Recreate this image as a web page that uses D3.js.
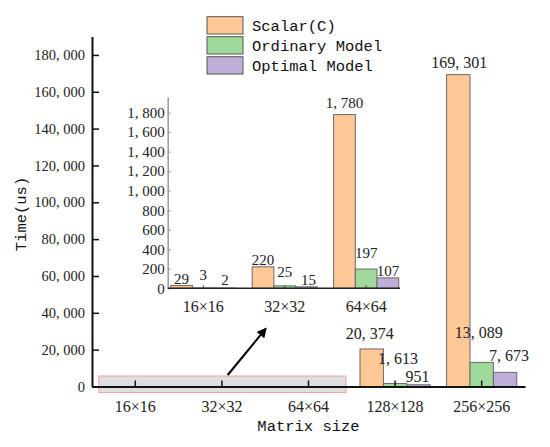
<!DOCTYPE html>
<html><head><meta charset="utf-8">
<script src="https://cdn.jsdelivr.net/npm/d3@7"></script>
<style>body{margin:0;background:#fff}svg{display:block}</style>
</head><body>
<script>
// ---- data ----
const categories = ["16×16","32×32","64×64","128×128","256×256"];
const series = ["Scalar(C)","Ordinary Model","Optimal Model"];
const scalarC = [29,220,1780,20374,169301];
const ordinary = [3,25,197,1613,13089];
const optimal = [2,15,107,951,7673];
const mainTicks = [0,20000,40000,60000,80000,100000,120000,140000,160000,180000];
const insetTicks = [0,200,400,600,800,1000,1200,1400,1600,1800];
const insetCats = categories.slice(0,3);
const mainLabelCats = categories.slice(3);

// ---- style ----
const colors = ["#FFC896","#9FDA9C","#BFAFD8"];
const values = [scalarC, ordinary, optimal];
// label nudges [dx, gap above bar] per series per category
const mainNudge = [[[-2,10],[1,7]],[[3,20],[-3,24]],[[-1,2.5],[4,11]]];
const insetNudge = [[[0,1],[0,2],[0,7]],[[0,8],[0,9],[0,11]],[[0,3],[2,2],[0,2]]];
const serif = "'Liberation Serif','Times New Roman',serif";
const mono = "'Liberation Mono','DejaVu Sans Mono',monospace";
const fmt = v => d3.format(",")(v).replace(/,/g, ", ");

const W=550,H=447;
const svg = d3.select("body").append("svg").attr("width",W).attr("height",H);

// main scales
const x = d3.scaleBand().domain(categories).range([92,525]).paddingInner(0.19).paddingOuter(0.095);
const xs = d3.scaleBand().domain(series).range([0,x.bandwidth()]);
const y = d3.scaleLinear().domain([0,190000]).range([386.5,36.5]);

// bars
series.forEach((s,si)=>{
  svg.append("g").selectAll("rect").data(categories).join("rect")
    .attr("x",c=>x(c)+xs(s)).attr("width",xs.bandwidth())
    .attr("y",(c,i)=>y(values[si][i])).attr("height",(c,i)=>y(0)-y(values[si][i]))
    .attr("fill",colors[si]).attr("stroke","#6a6a6a").attr("stroke-width",1);
});

// highlight rect (over small bars, under axes)
svg.append("rect").attr("x",98.7).attr("y",376).attr("width",247.3).attr("height",16.5)
  .attr("fill","#dedede").attr("stroke","#f2a3a3").attr("stroke-width",1);

// main axes
const yAxis = svg.append("g").attr("transform","translate(92,0)")
  .call(d3.axisLeft(y).tickValues(mainTicks).tickFormat(fmt).tickSizeInner(-7).tickSizeOuter(0).tickPadding(7));
const xAxis = svg.append("g").attr("transform",`translate(0,${y(0)})`)
  .call(d3.axisBottom(x).tickSizeInner(-6).tickSizeOuter(0).tickPadding(14));
[yAxis,xAxis].forEach(g=>{
  g.select(".domain").attr("stroke","#111").attr("stroke-width",2);
  g.selectAll(".tick line").attr("stroke","#111").attr("stroke-width",1.5);
  g.selectAll("text").attr("font-family",serif).attr("fill","#222");
});
yAxis.selectAll("text").attr("font-size",14.5);
xAxis.selectAll("text").attr("font-size",16);

// main value labels
series.forEach((s,si)=>{
  mainLabelCats.forEach((c,k)=>{
    const i = categories.indexOf(c);
    const v = values[si][i];
    svg.append("text").attr("x",x(c)+xs(s)+xs.bandwidth()/2+mainNudge[si][k][0])
      .attr("y",y(v)-mainNudge[si][k][1]).attr("text-anchor","middle")
      .attr("font-family",serif).attr("font-size",16).attr("fill","#222").text(fmt(v));
  });
});

// axis titles
svg.append("text").attr("x",308.5).attr("y",431).attr("text-anchor","middle")
  .attr("font-family",mono).attr("font-size",15.5).attr("fill","#111").text("Matrix size");
svg.append("text").attr("transform","translate(26,214) rotate(-90)").attr("text-anchor","middle")
  .attr("font-family",mono).attr("font-size",15.5).attr("fill","#111").text("Time(us)");

// legend
const lg = svg.append("g");
series.forEach((s,si)=>{
  lg.append("rect").attr("x",207).attr("y",16.7+si*20).attr("width",36).attr("height",17.3)
    .attr("fill",colors[si]).attr("stroke","#555").attr("stroke-width",1);
  lg.append("text").attr("x",252).attr("y",30.5+si*20).attr("font-family",mono).attr("font-size",15.5)
    .attr("fill","#111").text(s);
});

// ---- inset ----
const xi = d3.scaleBand().domain(insetCats).range([162.6,406.9]).paddingInner(0.2).paddingOuter(0.1);
const xis = d3.scaleBand().domain(series).range([0,xi.bandwidth()]);
const yi = d3.scaleLinear().domain([0,1960]).range([288.3,97]);

series.forEach((s,si)=>{
  svg.append("g").selectAll("rect").data(insetCats).join("rect")
    .attr("x",c=>xi(c)+xis(s)).attr("width",xis.bandwidth())
    .attr("y",(c,i)=>yi(values[si][i])).attr("height",(c,i)=>yi(0)-yi(values[si][i]))
    .attr("fill",colors[si]).attr("stroke","#6a6a6a").attr("stroke-width",1);
});

const yiAxis = svg.append("g").attr("transform","translate(167.7,0)")
  .call(d3.axisLeft(yi).tickValues(insetTicks).tickFormat(fmt).tickSizeInner(-3).tickSizeOuter(0).tickPadding(3));
yiAxis.select(".domain").attr("stroke","#999").attr("stroke-width",1.5);
yiAxis.selectAll(".tick line").attr("stroke","#999");
yiAxis.selectAll("text").attr("font-family",serif).attr("font-size",15).attr("fill","#222");

const xiAxis = svg.append("g").attr("transform",`translate(0,${yi(0)})`)
  .call(d3.axisBottom(xi).tickSizeInner(-3).tickSizeOuter(0).tickPadding(12));
xiAxis.select(".domain").remove();
xiAxis.append("line").attr("x1",167.7).attr("x2",400).attr("stroke","#222").attr("stroke-width",1.5);
xiAxis.selectAll(".tick line").attr("stroke","#444");
xiAxis.selectAll("text").attr("font-family",serif).attr("font-size",16).attr("fill","#222");

series.forEach((s,si)=>{
  insetCats.forEach((c,i)=>{
    const v = values[si][i];
    svg.append("text").attr("x",xi(c)+xis(s)+xis.bandwidth()/2+insetNudge[si][i][0])
      .attr("y",yi(v)-insetNudge[si][i][1]).attr("text-anchor","middle")
      .attr("font-family",serif).attr("font-size",15).attr("fill","#222").text(fmt(v));
  });
});

// arrow
svg.append("defs").append("marker").attr("id","ah").attr("viewBox","0 0 10 10")
  .attr("refX",8).attr("refY",5).attr("markerWidth",5).attr("markerHeight",5).attr("orient","auto")
  .append("path").attr("d","M0,0L10,5L0,10z").attr("fill","#000");
svg.append("line").attr("x1",227.7).attr("y1",375).attr("x2",265.5).attr("y2",329)
  .attr("stroke","#000").attr("stroke-width",2).attr("marker-end","url(#ah)");
</script>
</body></html>
